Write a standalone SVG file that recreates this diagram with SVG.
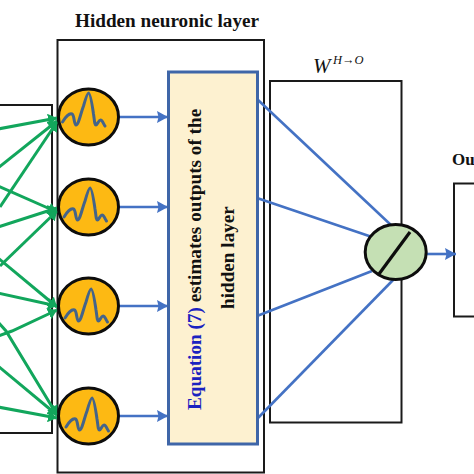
<svg xmlns="http://www.w3.org/2000/svg" width="474" height="474" viewBox="0 0 474 474">
<style>
.box{fill:#fff;stroke:#1a1a1a;stroke-width:2}
.t{font-family:"Liberation Serif","Times New Roman",serif;fill:#111}
.b{font-weight:700;font-size:19.200px}
.g{fill:none;stroke:#12a65c;stroke-width:3}
.bl{fill:none;stroke:#4472c4;stroke-width:2.600}
.n{fill:#fdb913;stroke:#0d0d0d;stroke-width:3}
.w{fill:none;stroke:#44648a;stroke-width:3;stroke-linejoin:round;stroke-linecap:round}
</style>
<defs>
<marker id="ga" markerUnits="userSpaceOnUse" markerWidth="10" markerHeight="12" refX="9" refY="6" orient="auto"><path d="M0 0L9 6L0 12Z" fill="#12a65c"/></marker>
<marker id="ba" markerUnits="userSpaceOnUse" markerWidth="12" markerHeight="14" refX="11" refY="6" orient="auto"><path d="M0 0L11 6L0 12L1.500 6Z" fill="#4472c4"/></marker>
<path id="wave" d="M-26 5C-23 0-19-4-16.500-3C-14-2-14.500 8-12.500 8C-10 8-8-3-5-11C-3-18-1-24 0-24C2-24 4-10 5-3C6 3 6 8 7.500 8C9 8 10 3 12 3C14 3 15 7 16.500 9"/>
</defs>
<g id="input-layer"><rect class="box" x="-10" y="105" width="62" height="328"/></g>
<g id="hidden-layer"><rect class="box" x="57.500" y="40" width="206.500" height="432.500"/>
<text class="t b" x="75" y="27">Hidden neuronic layer</text></g>
<g id="weights"><rect class="box" x="270" y="81" width="131.500" height="341.500"/>
<text class="t" x="313" y="73" font-size="21" font-style="italic">W</text>
<text class="t" x="333" y="64" font-size="12.500" font-style="italic">H→O</text></g>
<g id="output-layer"><rect class="box" x="454" y="183.500" width="30" height="133"/>
<text class="t" x="452" y="165" font-weight="700" font-size="17">Ou</text></g>
<g id="connectors">
<g class="g">
<path marker-end="url(#ga)" d="M-2 129L57 118"/>
<path marker-end="url(#ga)" d="M-2 168L57 121"/>
<path marker-end="url(#ga)" d="M0 207L57 122"/>
<path marker-end="url(#ga)" d="M-2 186L57 212"/>
<path marker-end="url(#ga)" d="M-2 227L57 208"/>
<path marker-end="url(#ga)" d="M0 266L57 211"/>
<path marker-end="url(#ga)" d="M-2 258L57 307"/>
<path marker-end="url(#ga)" d="M-2 293L57 306"/>
<path marker-end="url(#ga)" d="M-2 336L12 331L57 310"/>
<path marker-end="url(#ga)" d="M-2 322L6 331L57 415"/>
<path marker-end="url(#ga)" d="M-2 366L57 415"/>
<path marker-end="url(#ga)" d="M-2 407L57 418"/>
</g>
<g class="bl">
<path marker-end="url(#ba)" d="M119 117H168"/>
<path marker-end="url(#ba)" d="M119 207H168"/>
<path marker-end="url(#ba)" d="M119 306H168"/>
<path marker-end="url(#ba)" d="M119 416H168"/>
<path d="M257 99L392 226"/>
<path d="M257 198L372 237"/>
<path d="M257 316L372 271"/>
<path d="M257 419L395 278"/>
<path marker-end="url(#ba)" d="M427 254H456"/>
</g>
</g>
<g id="h1"><ellipse class="n" cx="88.500" cy="117" rx="30" ry="28"/><use href="#wave" class="w" x="88.500" y="117"/></g>
<g id="h2"><ellipse class="n" cx="88.500" cy="207" rx="30" ry="28"/><use href="#wave" class="w" x="90" y="212"/></g>
<g id="h3"><ellipse class="n" cx="88.500" cy="306" rx="30" ry="28"/><use href="#wave" class="w" x="91" y="313"/></g>
<g id="h4"><ellipse class="n" cx="88.500" cy="416" rx="30" ry="28"/><use href="#wave" class="w" x="92" y="422"/></g>
<g id="equation"><rect x="168.500" y="72" width="89" height="372" fill="#fdf1d0" stroke="#3f66a8" stroke-width="3"/>
<text class="t b" transform="translate(201 410) rotate(-90)"><tspan fill="#1a22c0">Equation (7)</tspan> estimates outputs of the</text>
<text class="t b" transform="translate(234 309) rotate(-90)">hidden layer</text></g>
<g id="sum"><ellipse cx="395.700" cy="252" rx="30.500" ry="27.500" fill="#c5e0b4" stroke="#0d0d0d" stroke-width="3"/>
<path d="M379 274L410 232" stroke="#0d0d0d" stroke-width="3.200" fill="none"/></g>
</svg>
